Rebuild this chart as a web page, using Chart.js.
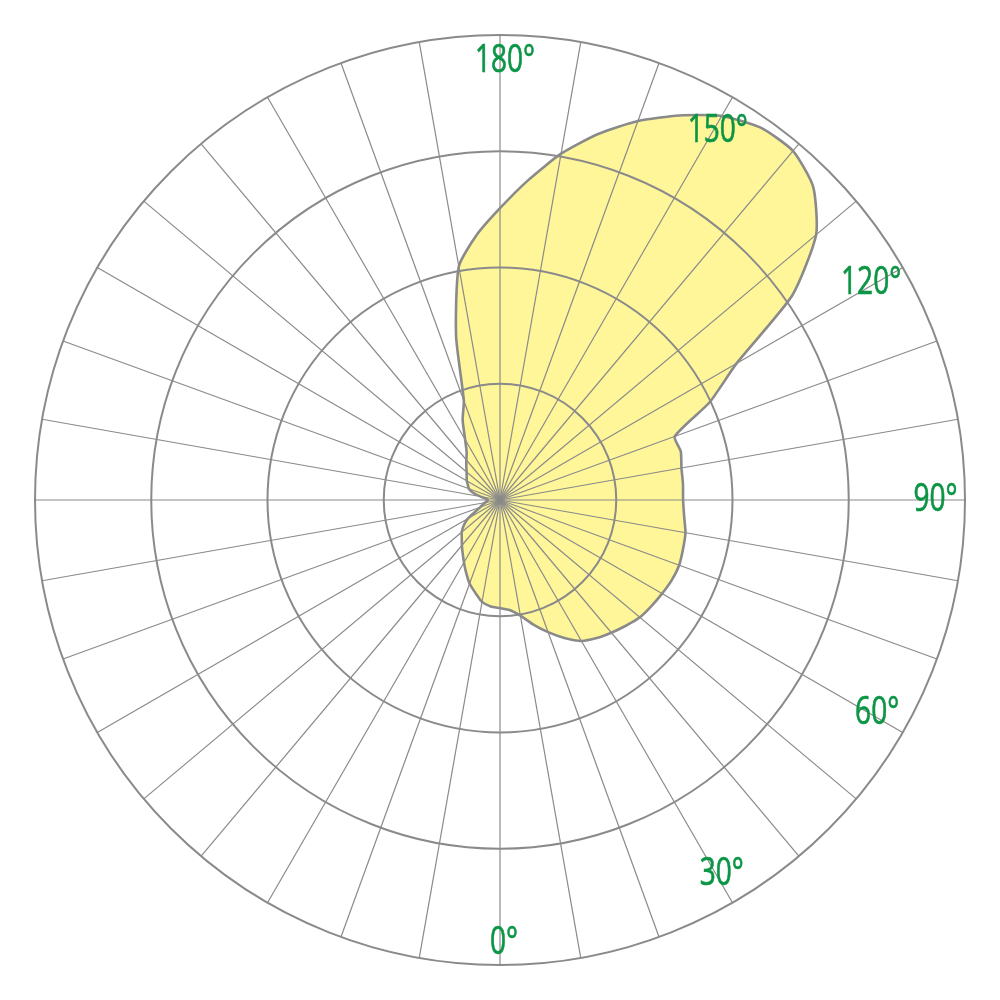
<!DOCTYPE html>
<html>
<head>
<meta charset="utf-8">
<script src="https://cdn.jsdelivr.net/npm/chart.js@4.4.1/dist/chart.umd.min.js"></script>
<style>
  html, body { margin: 0; padding: 0; background: #fff; }
  #wrap { width: 1000px; height: 1000px; }
</style>
</head>
<body>
<div id="wrap"><canvas id="polarChart"></canvas></div>
<script>
/************ DATA ************/
// gamma angle (deg), 0 = straight down, 90 = right, 180 = straight up
const angles = [
  0, 5, 10, 15, 20, 25, 30, 35, 40, 45, 50, 55,
  60, 65, 70, 75, 80, 85, 90, 95, 100, 105, 110, 115,
  120, 125, 130, 135, 140, 145, 150, 155, 160, 165, 170, 175,
  180, 185, 190, 195, 200, 205, 210, 215, 220, 225, 230, 235,
  240, 245, 250, 255, 260, 265, 270, 275, 280, 285, 290, 295,
  300, 305, 310, 315, 320, 325, 330, 335, 340, 345, 350, 355,
];

// intensity, one value per angle above
const intensity = [
  93, 95, 101, 111, 121, 131, 140, 145, 149, 153, 157, 159,
  161, 163, 164, 163, 162, 159, 157.5, 158, 158.5, 161, 160, 199,
  235, 307, 355, 381, 392, 391, 381.5, 365, 347, 326, 302.5, 276,
  251, 229, 204, 146, 91, 76, 60, 50, 45, 41, 37.5, 35,
  33, 30.5, 28.5, 24, 17, 12, 10.5, 11, 13, 15.5, 18, 23,
  32, 38, 43, 46.5, 51, 56, 62, 69, 76.5, 82.5, 89, 92,
];

const labelledAngles = [0, 30, 60, 90, 120, 150, 180];
const ringTicks = [0, 100, 200, 300, 400];

/************ RADAR ORDER ************/
// radar goes clockwise from the top, so index i sits at gamma = 180 - 5i
const radarAngles = [];
const radarValues = [];
for (let i = 0; i < angles.length; i++) {
  const g = (180 - 5 * i + 360) % 360;
  const k = angles.indexOf(g);
  radarAngles.push(g);
  radarValues.push(intensity[k]);
}

/************ LABEL PLUGIN ************/
// small per-label nudges (px) so the labels sit where the original has them
const labelNudge = {
  0: [4, 7], 30: [4, -3], 60: [0, -5], 90: [0, 0],
  120: [-6, 1], 150: [0, 8], 180: [5, -4],
};

const angleLabels = {
  id: "angleLabels",
  afterDraw(chart) {
    const scale = chart.scales.r;
    const ctx = chart.ctx;
    const dist = scale.getDistanceFromCenterForValue(scale.max) - 29.5;
    ctx.save();
    ctx.fillStyle = "#0b9545";
    ctx.strokeStyle = "#0b9545";
    ctx.lineWidth = 0.7;
    ctx.font = '39px "Open Sans", "Noto Sans", sans-serif';
    ctx.textAlign = "center";
    ctx.textBaseline = "middle";
    labelledAngles.forEach((a) => {
      const idx = radarAngles.indexOf(a);
      const p = scale.getPointPosition(idx, dist);
      const n = labelNudge[a];
      ctx.save();
      ctx.translate(p.x + n[0], p.y + n[1]);
      ctx.scale(0.72, 1); // narrow, condensed look
      ctx.fillText(a + "°", 0, 0);
      ctx.strokeText(a + "°", 0, 0);
      ctx.restore();
    });
    ctx.restore();
  },
};

/************ CHART ************/
const ctx = document.getElementById("polarChart").getContext("2d");
const chart = new Chart(ctx, {
  type: "radar",
  data: {
    labels: radarAngles,
    datasets: [
      {
        data: radarValues,
        fill: "origin",
        backgroundColor: "#fff69a",
        borderColor: "#8a8a8a",
        borderWidth: 2.6,
        pointRadius: 0,
        tension: 0.2,
      },
    ],
  },
  options: {
    responsive: true,
    maintainAspectRatio: false,
    animation: false,
    layout: { padding: 34.5 },
    plugins: {
      legend: { display: false },
      tooltip: { enabled: false },
    },
    scales: {
      r: {
        min: ringTicks[0],
        max: ringTicks[ringTicks.length - 1],
        ticks: { display: false, stepSize: 100 },
        pointLabels: { display: false },
        grid: {
          circular: true,
          color: "#8a8a8a",
          lineWidth: 2,
          z: 1,
        },
        angleLines: {
          color: "#8a8a8a",
          lineWidth: (c) => (c.index % 2 === 0 ? 1.2 : 0),
        },
      },
    },
  },
  plugins: [angleLabels],
});
</script>
</body>
</html>
